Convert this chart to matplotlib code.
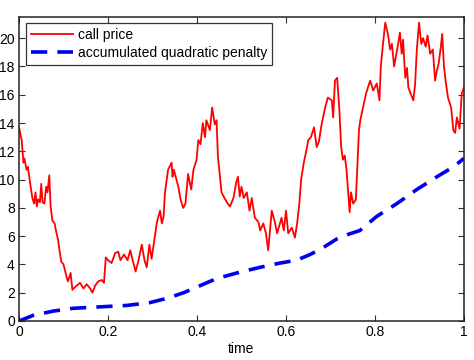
import matplotlib
matplotlib.use("Agg")
import matplotlib.pyplot as plt

plt.rcParams['font.family'] = ['Liberation Sans', 'DejaVu Sans']

# call price trace (time, value)
price_t = [0.0, 0.006, 0.01, 0.012, 0.017, 0.02, 0.025, 0.03, 0.034, 0.037, 0.04, 0.043,
           0.047, 0.05, 0.053, 0.057, 0.061, 0.064, 0.068, 0.071, 0.075, 0.08, 0.083, 0.088,
           0.09, 0.095, 0.1, 0.107, 0.11, 0.116, 0.12, 0.126, 0.137, 0.145, 0.152, 0.16,
           0.165, 0.171, 0.178, 0.186, 0.191, 0.195, 0.2, 0.208, 0.216, 0.223, 0.228, 0.236,
           0.244, 0.25, 0.257, 0.262, 0.268, 0.276, 0.282, 0.287, 0.293, 0.298, 0.304, 0.31,
           0.317, 0.321, 0.325, 0.328, 0.335, 0.343, 0.345, 0.348, 0.358, 0.363, 0.369, 0.374,
           0.38, 0.387, 0.392, 0.399, 0.403, 0.408, 0.413, 0.418, 0.421, 0.429, 0.434, 0.44,
           0.444, 0.447, 0.45, 0.455, 0.46, 0.467, 0.474, 0.482, 0.488, 0.492, 0.496, 0.5,
           0.505, 0.512, 0.518, 0.523, 0.53, 0.538, 0.542, 0.549, 0.555, 0.56, 0.568, 0.575,
           0.58, 0.59, 0.595, 0.6, 0.605, 0.613, 0.62, 0.625, 0.63, 0.634, 0.64, 0.646,
           0.65, 0.656, 0.663, 0.669, 0.674, 0.68, 0.688, 0.694, 0.703, 0.706, 0.71, 0.715,
           0.72, 0.724, 0.728, 0.732, 0.736, 0.74, 0.743, 0.746, 0.751, 0.757, 0.76, 0.764,
           0.767, 0.773, 0.78, 0.789, 0.796, 0.804, 0.81, 0.813, 0.818, 0.823, 0.829, 0.834,
           0.838, 0.843, 0.847, 0.852, 0.856, 0.86, 0.863, 0.868, 0.872, 0.875, 0.88, 0.886,
           0.89, 0.894, 0.899, 0.904, 0.908, 0.914, 0.918, 0.924, 0.93, 0.935, 0.939, 0.943,
           0.948, 0.951, 0.955, 0.959, 0.964, 0.971, 0.976, 0.98, 0.984, 0.99, 0.995, 1.0]
price_v = [13.7, 12.8, 11.2, 11.5, 10.7, 10.9, 9.75, 8.7, 8.3, 9.1, 8.1, 8.6,
           8.4, 9.7, 8.4, 8.3, 9.5, 9.1, 10.3, 8.1, 7.1, 6.9, 6.4, 5.7,
           5.2, 4.2, 4.0, 3.1, 2.8, 3.4, 2.2, 2.4, 2.7, 2.3, 2.6, 2.3,
           2.0, 2.5, 2.8, 2.9, 2.7, 4.5, 4.3, 4.1, 4.8, 4.9, 4.3, 4.7,
           4.3, 5.0, 4.1, 3.5, 4.2, 5.4, 4.3, 3.8, 5.4, 4.4, 5.7, 7.0,
           7.8, 6.9, 7.4, 9.1, 10.7, 11.2, 10.2, 10.7, 9.5, 8.6, 8.0, 8.3,
           10.4, 9.3, 10.7, 11.4, 12.8, 12.5, 14.0, 13.0, 14.2, 13.5, 15.1, 13.9,
           14.2, 11.6, 10.7, 9.1, 8.8, 8.4, 8.1, 8.7, 9.8, 10.2, 8.8, 9.5,
           8.7, 9.1, 7.8, 8.7, 7.3, 7.0, 6.4, 6.9, 6.2, 5.0, 7.8, 7.0,
           6.2, 7.3, 6.4, 7.8, 6.2, 6.6, 5.9, 6.9, 8.3, 10.0, 11.2, 12.1,
           12.8, 13.0, 13.7, 12.3, 12.7, 13.9, 15.1, 15.8, 15.6, 14.4, 17.0, 17.2,
           14.9, 12.3, 11.4, 11.7, 10.7, 9.0, 7.7, 9.1, 8.3, 8.6, 10.7, 13.5,
           14.2, 15.1, 16.1, 17.0, 16.3, 16.8, 15.6, 18.0, 19.6, 21.1, 20.3, 19.2,
           19.6, 18.0, 18.7, 19.6, 20.4, 18.9, 19.9, 17.2, 17.9, 16.5, 16.1, 15.6,
           16.7, 19.2, 21.1, 19.6, 20.0, 19.4, 20.2, 18.9, 19.2, 17.0, 17.7, 18.2,
           19.4, 20.3, 18.0, 16.9, 15.8, 15.1, 13.5, 13.3, 14.4, 13.6, 16.1, 16.5]

# accumulated quadratic penalty
pen_t = [0.0, 0.032, 0.077, 0.122, 0.182, 0.242, 0.294, 0.332, 0.37, 0.407, 0.444,
         0.49, 0.542, 0.587, 0.624, 0.654, 0.684, 0.714, 0.737, 0.766, 0.804, 0.849,
         0.894, 0.939, 0.976, 1.0]
pen_v = [0.0, 0.4, 0.7, 0.9, 1.0, 1.1, 1.3, 1.6, 2.0, 2.5, 3.0,
         3.4, 3.8, 4.1, 4.3, 4.7, 5.2, 5.8, 6.1, 6.4, 7.4, 8.3,
         9.3, 10.2, 10.9, 11.5]

x_ticks = [0, 0.2, 0.4, 0.6, 0.8, 1]
x_labels = ['0', '0.2', '0.4', '0.6', '0.8', '1']
y_ticks = [0, 2, 4, 6, 8, 10, 12, 14, 16, 18, 20]

fig = plt.figure(figsize=(4.74, 3.6), dpi=100)
ax = fig.add_axes([19/474, 39/360, 445/474, 304/360])

ax.plot(price_t, price_v, color='#ff0000', lw=1.3, label='call price')
ax.plot(pen_t, pen_v, color='#0000ee', lw=2.6, dashes=(4.5, 2.8),
        label='accumulated quadratic penalty')

ax.set_xlim(0, 1)
ax.set_ylim(0, 21.5)
ax.set_xticks(x_ticks)
ax.set_xticklabels(x_labels)
ax.set_yticks(y_ticks)
ax.tick_params(direction='in', length=4, width=0.8, top=True, right=True,
               labelsize=10, pad=3, color='#333333')
for s in ax.spines.values():
    s.set_linewidth(1.1)
    s.set_color('#222222')
ax.set_xlabel('time', fontsize=10, labelpad=1)
ax.xaxis.set_label_coords(0.5, -0.07)

leg = ax.legend(loc='upper left', bbox_to_anchor=(0.0157, 0.98), borderaxespad=0,
                fontsize=10, frameon=True, fancybox=False, handlelength=3.0,
                handletextpad=0.4, borderpad=0.35, labelspacing=0.3)
leg.get_frame().set_edgecolor('black')
leg.get_frame().set_linewidth(0.9)

fig.savefig('out.png', dpi=100)
